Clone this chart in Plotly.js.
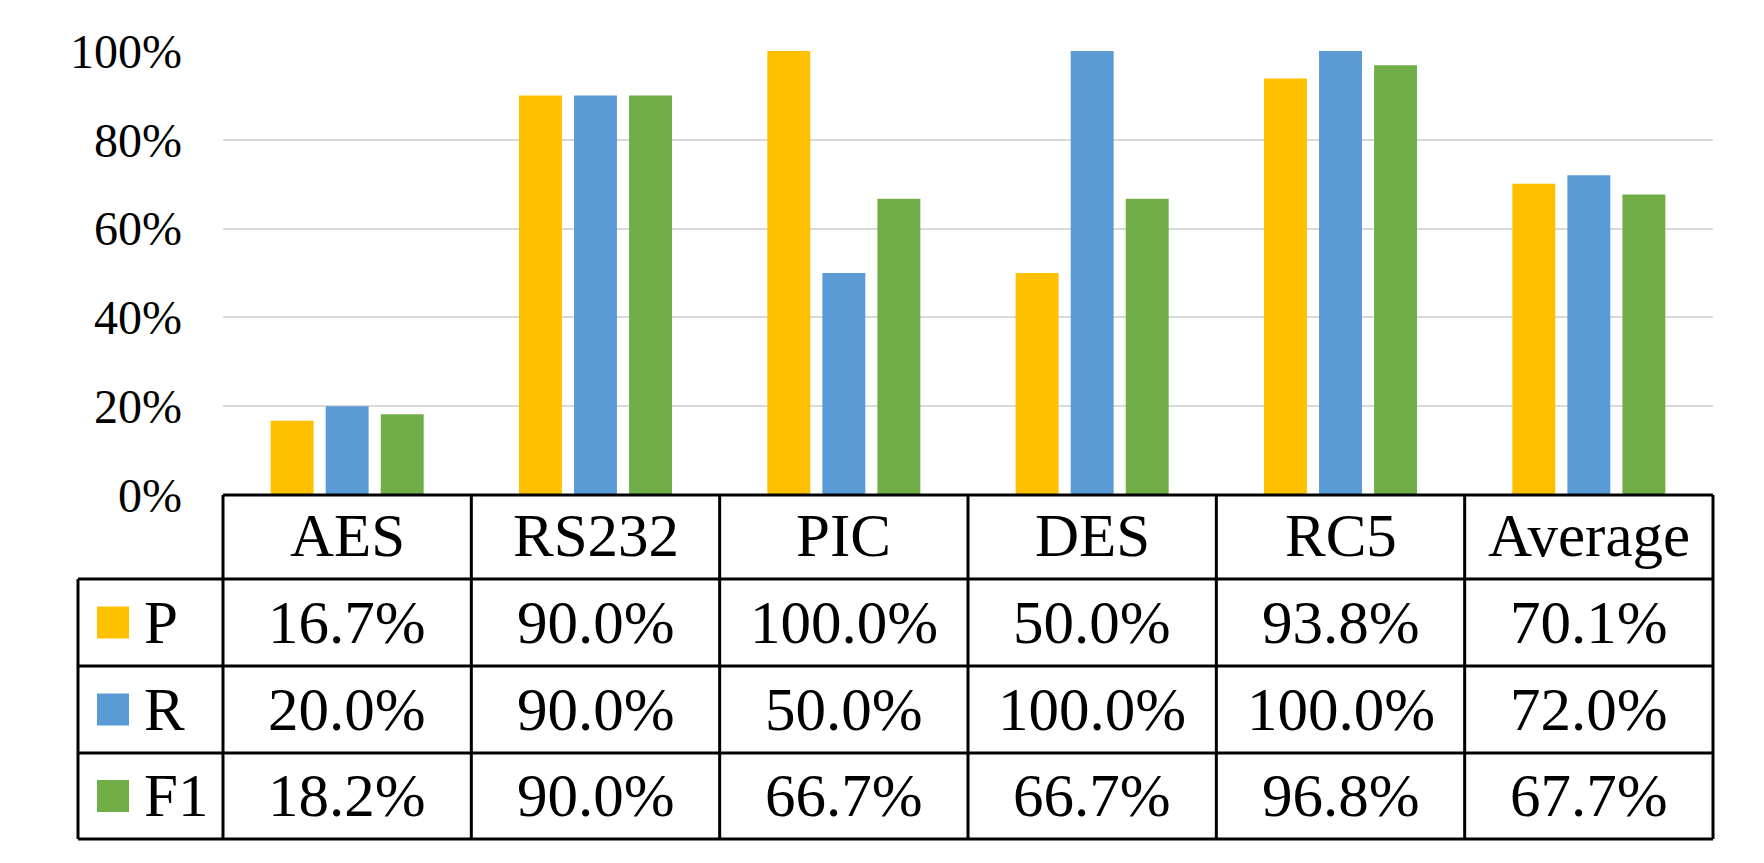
<!DOCTYPE html>
<html>
<head>
<meta charset="utf-8">
<script src="https://cdn.plot.ly/plotly-3.0.1.min.js"></script>
<style>
  html, body { margin: 0; padding: 0; background: #fff; }
  #chart { width: 1764px; height: 863px; }
</style>
</head>
<body>
<div id="chart"></div>
<script>
// data
let categories = ['AES', 'RS232', 'PIC', 'DES', 'RC5', 'Average'];
let val_p = [0.167, 0.900, 1.000, 0.500, 0.938, 0.701];
let val_r = [0.200, 0.900, 0.500, 1.000, 1.000, 0.720];
let val_f1 = [0.182, 0.900, 0.667, 0.667, 0.968, 0.677];
let series_names = ['P', 'R', 'F1'];
let list_couleur = ['#FFC000', '#5B9BD5', '#70AD47'];

let all_values = [val_p, val_r, val_f1];

// plot area in pixels
let W = 1764, H = 863;
let mg = {l: 223, r: 51, t: 51, b: 368};
let plotW = W - mg.l - mg.r;
let plotH = H - mg.t - mg.b;
let px2x = px => (px - mg.l) / plotW;
let px2y = py => (H - mg.b - py) / plotH;

let font_family = '"Liberation Serif", "Times New Roman", serif';

let data = all_values.map((vals, i) => ({
    x: categories,
    y: vals,
    name: series_names[i],
    type: 'bar',
    marker: {color: list_couleur[i]},
    hoverinfo: 'x+y+name'
}));

// table under the chart
let row_edges = [495, 579, 666, 753, 839];   // header, P, R, F1
let label_left = px2x(78);
let line_style = {color: 'black', width: 3};
let shapes = [];
let annotations = [];

// horizontal lines
row_edges.forEach((py, k) => {
    shapes.push({
        type: 'line', xref: 'paper', yref: 'paper',
        x0: k === 0 ? 0 : label_left, x1: 1,
        y0: px2y(py), y1: px2y(py),
        line: line_style
    });
});
// vertical lines between categories
for (let c = 0; c <= categories.length; c++) {
    shapes.push({
        type: 'line', xref: 'paper', yref: 'paper',
        x0: c / categories.length, x1: c / categories.length,
        y0: px2y(row_edges[0]), y1: px2y(row_edges[4]),
        line: line_style
    });
}
// left border of the row label column
shapes.push({
    type: 'line', xref: 'paper', yref: 'paper',
    x0: label_left, x1: label_left,
    y0: px2y(row_edges[1]), y1: px2y(row_edges[4]),
    line: line_style
});

let cell_font = {family: font_family, size: 61, color: 'black'};

// header row
categories.forEach(cat => {
    annotations.push({
        x: cat, xref: 'x', yref: 'paper',
        y: px2y((row_edges[0] + row_edges[1]) / 2 - 2),
        text: cat, showarrow: false, font: cell_font,
        xanchor: 'center', yanchor: 'middle'
    });
});

// value rows + legend keys
all_values.forEach((vals, i) => {
    let mid = (row_edges[i + 1] + row_edges[i + 2]) / 2;
    shapes.push({
        type: 'rect', xref: 'paper', yref: 'paper',
        x0: px2x(97), x1: px2x(129),
        y0: px2y(mid - 16), y1: px2y(mid + 16),
        fillcolor: list_couleur[i], line: {width: 0}
    });
    annotations.push({
        x: px2x(142), xref: 'paper', yref: 'paper', y: px2y(mid),
        text: series_names[i], showarrow: false, font: cell_font,
        xanchor: 'left', yanchor: 'middle'
    });
    vals.forEach((v, c) => {
        annotations.push({
            x: categories[c], xref: 'x', yref: 'paper', y: px2y(mid),
            text: (v * 100).toFixed(1) + '%', showarrow: false, font: cell_font,
            xanchor: 'center', yanchor: 'middle'
        });
    });
});

var layout = {
    width: W,
    height: H,
    margin: mg,
    paper_bgcolor: 'white',
    plot_bgcolor: 'white',
    showlegend: false,
    barmode: 'group',
    bargap: 0.335,
    bargroupgap: 0.22,
    font: {family: font_family, color: 'black'},
    xaxis: {
        type: 'category',
        range: [-0.5, 5.5],
        showticklabels: false,
        showgrid: false,
        zeroline: false,
        showline: false,
        ticks: ''
    },
    yaxis: {
        range: [0, 1],
        dtick: 0.2,
        tickformat: '.0%',
        tickfont: {family: font_family, size: 48, color: 'black'},
        ticklabelstandoff: 40,
        showgrid: true,
        gridcolor: '#d9d9d9',
        gridwidth: 2,
        zeroline: false,
        showline: false,
        ticks: ''
    },
    shapes: shapes,
    annotations: annotations
};

let config = {displayModeBar: false};

Plotly.newPlot('chart', data, layout, config);
</script>
</body>
</html>
